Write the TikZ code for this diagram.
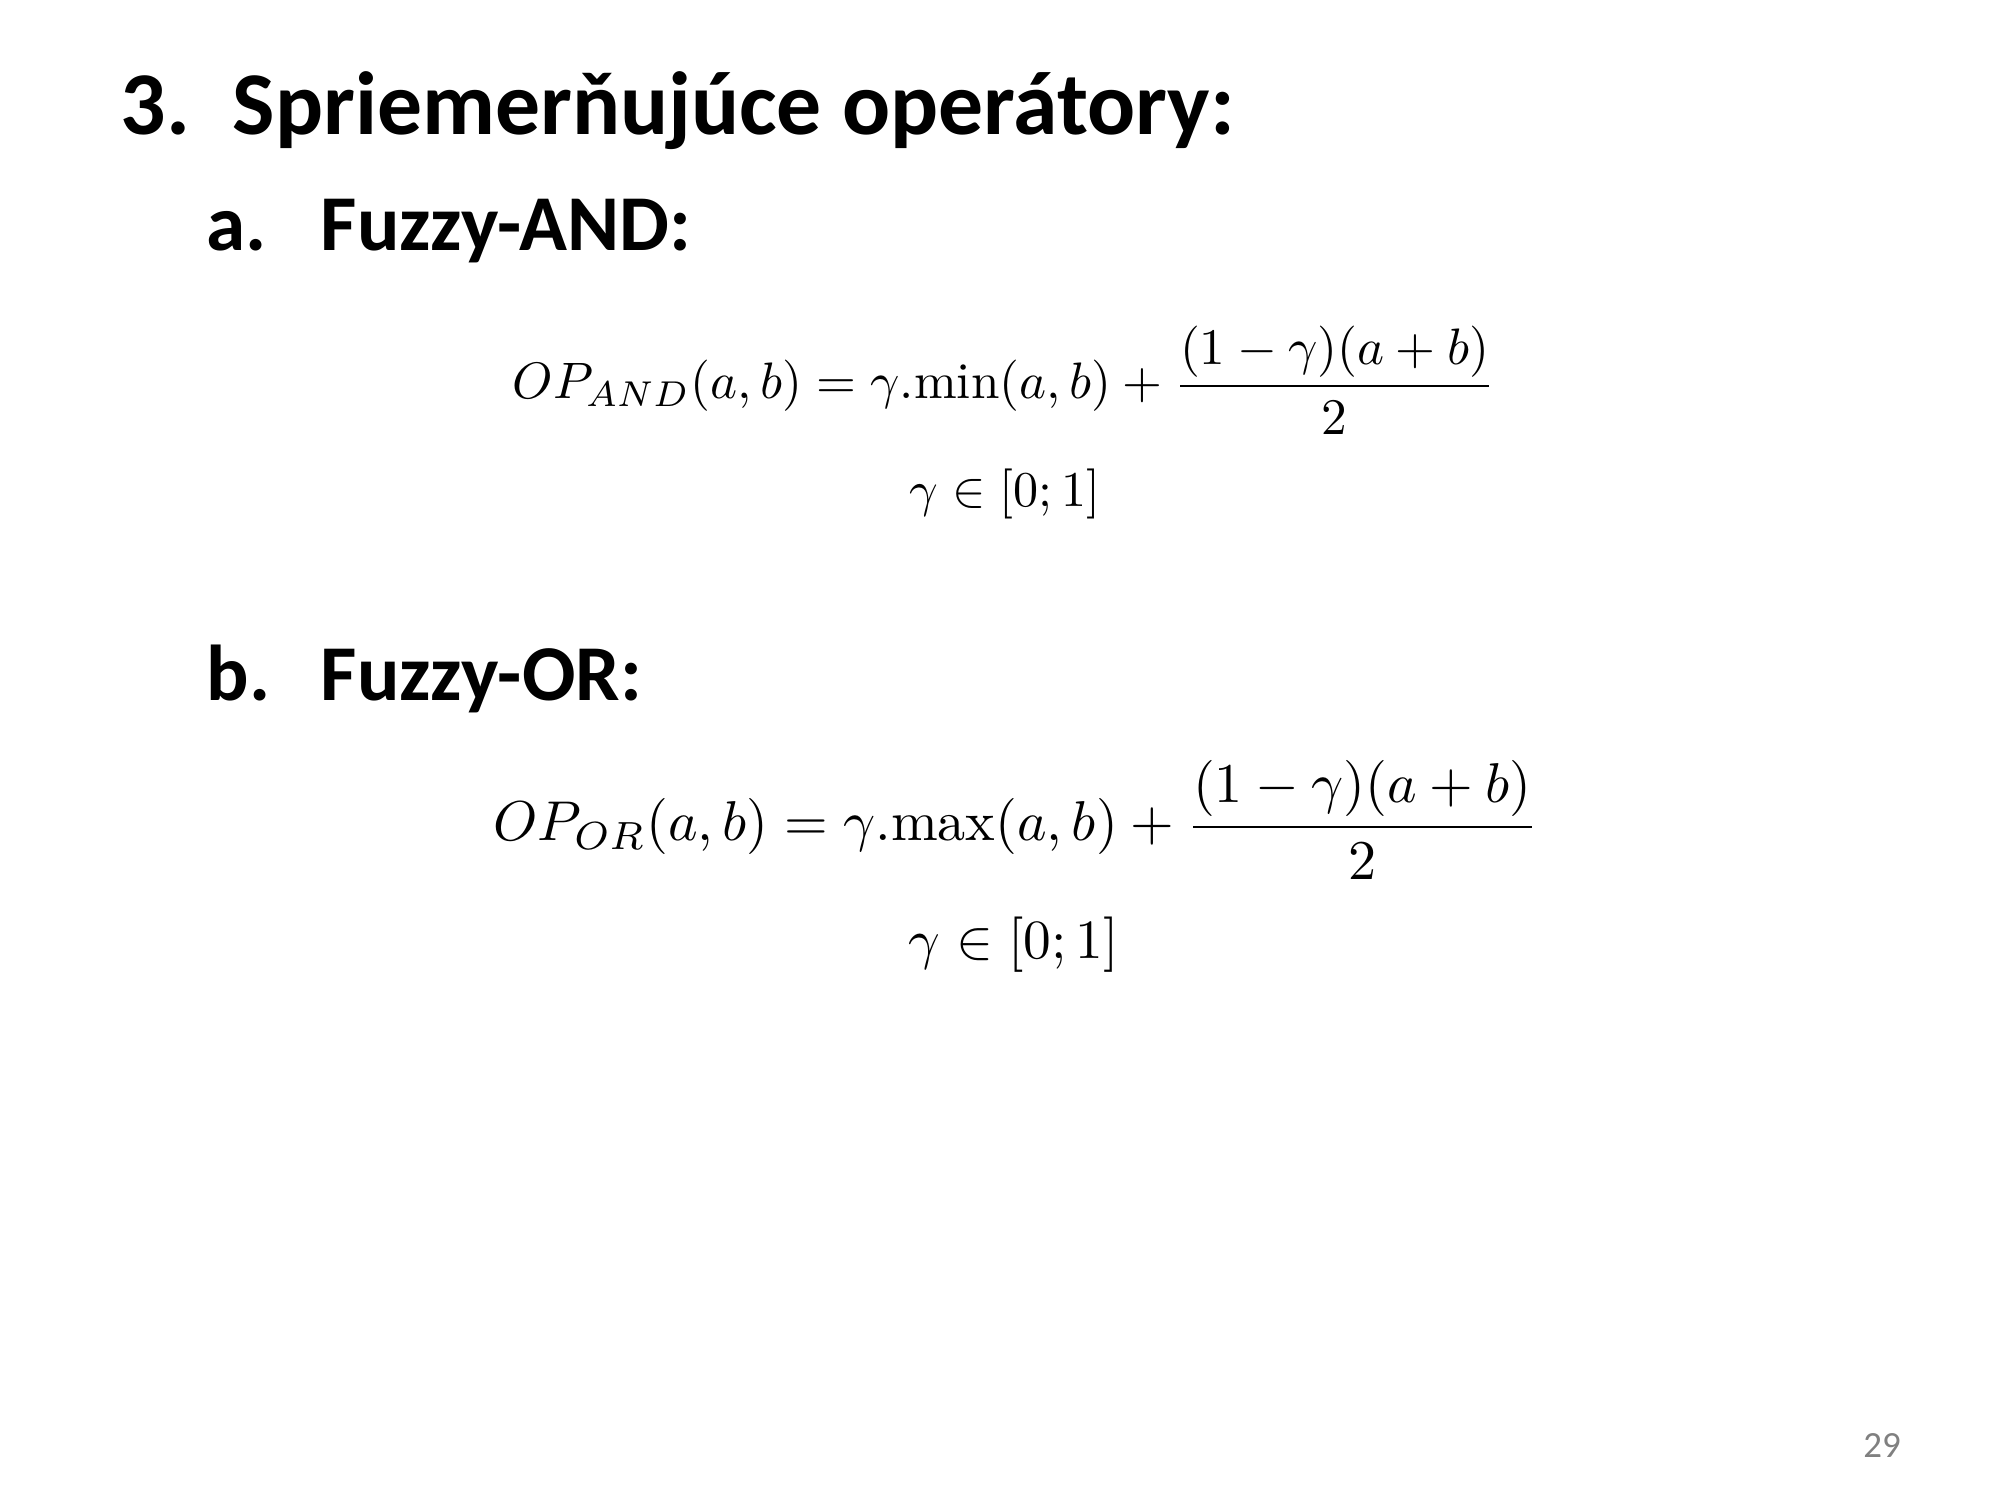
\documentclass[tikz,border=0pt]{standalone}
\usepackage{fontspec}
\usepackage{graphicx}
\usepackage{amsmath}
\setmainfont{Carlito}
\newfontfamily\lmrm{Latin Modern Roman}
\newcommand{\myop}[1]{\text{\lmrm\upshape #1}}
\begin{document}
\begin{tikzpicture}[x=0.01cm,y=-0.01cm,
  head/.style={anchor=base west,font=\bfseries\fontsize{25.5}{30}\selectfont,inner sep=0},
  sub/.style={anchor=base west,font=\bfseries\fontsize{22.5}{27}\selectfont,inner sep=0},
  eq/.style={inner sep=0}]
\useasboundingbox (0,0) rectangle (2000,1500);
\node[head] (t3) at (120,135) {3.};
\node[head] (t) at (232,135) {Spriemerňujúce operátory:};
\node[sub] (la) at (206,250) {a.};
\node[sub] (a) at (320,250) {Fuzzy-AND:};
\node[eq] (e1) at (1004,380) {\resizebox{9.82cm}{!}{$OP_{AND}(a,b)=\gamma.\myop{min}(a,b)+\dfrac{(1-\gamma)(a+b)}{2}$}};
\node[eq] (g1) at (1005,494) {\resizebox{1.9cm}{!}{$\gamma\in[0;1]$}};
\node[sub] (lb) at (206,700) {b.};
\node[sub] (b) at (320,700) {Fuzzy-OR:};
\node[eq] (e2) at (1016,820) {\resizebox{10.44cm}{!}{$OP_{OR}(a,b)=\gamma.\myop{max}(a,b)+\dfrac{(1-\gamma)(a+b)}{2}$}};
\node[eq] (g2) at (1014,945) {\resizebox{2.1cm}{!}{$\gamma\in[0;1]$}};
\node[font=\fontsize{10.5}{12}\selectfont,text=gray] (n) at (1882,1446) {29};
\end{tikzpicture}
\end{document}
